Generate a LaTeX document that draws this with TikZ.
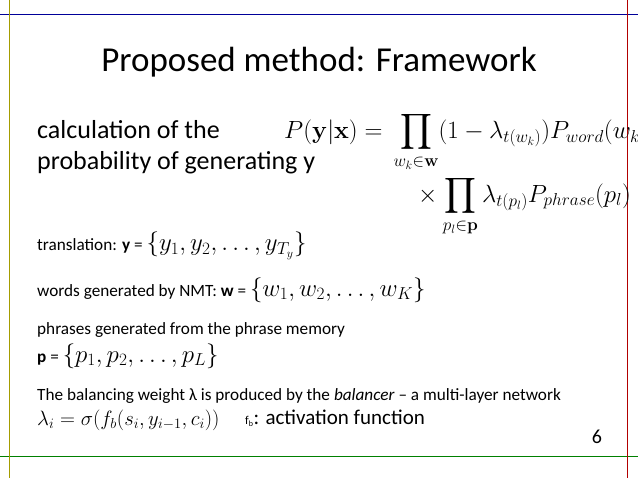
\documentclass[tikz,border=0pt]{standalone}
\usepackage{amsmath}
\usepackage[no-math]{fontspec}
\setmainfont{Carlito}
\begin{document}
\begin{tikzpicture}[x=1pt,y=-1pt,
  txt/.style={anchor=west,inner sep=0pt},
  big/.style={font=\fontsize{26}{31}\selectfont},
  small/.style={font=\fontsize{17.2}{20}\selectfont}]
\useasboundingbox (0,0) rectangle (638,478);
\draw[blue!60!black,line width=1pt] (0,15) -- (638,15);
\draw[green!50!black,line width=1pt] (0,457) -- (638,457);
\draw[olive!80!yellow,line width=1pt] (9,0) -- (9,478);
\draw[red!70!black,line width=1pt] (627,0) -- (627,478);
\node[font=\fontsize{35}{40}\selectfont] (title) at (319,62) {Proposed method: Framework};
\node[txt,big,align=left] (calc) at (37,147) {calculation of the\\probability of generating y};
\node[anchor=north west,inner sep=0pt,font=\fontsize{23}{27}\selectfont] (eq) at (284,112)
 {$\begin{aligned}P(\mathbf{y}|\mathbf{x}) = {}&\prod_{w_k\in\mathbf{w}}(1-\lambda_{t(w_k)})P_{word}(w_k)\\
 &\quad\times\prod_{p_l\in\mathbf{p}}\lambda_{t(p_l)}P_{phrase}(p_l)\end{aligned}$};
\node[txt,small] (tr) at (37,246) {translation: \textbf{y} = \fontsize{25}{30}\selectfont$\{y_1,y_2,\ldots,y_{T_y}\}$};
\node[txt,small] (wd) at (37,290) {words generated by NMT: \textbf{w} = \fontsize{25}{30}\selectfont$\{w_1,w_2,\ldots,w_K\}$};
\node[txt,small] (ph) at (37,330) {phrases generated from the phrase memory};
\node[txt,small] (pp) at (37,356) {\textbf{p} = \fontsize{25}{30}\selectfont$\{p_1,p_2,\ldots,p_L\}$};
\node[txt,small] (bal) at (37,396) {The balancing weight λ is produced by the \textit{balancer} – a multi-layer network};
\node[txt,font=\fontsize{20.5}{24}\selectfont] (lam) at (37,420) {$\lambda_i=\sigma(f_b(s_i,y_{i-1},c_i))$};
\node[txt,font=\fontsize{21}{25}\selectfont] (act) at (245,418) {{\fontsize{12}{14}\selectfont f\textsubscript{b}}: activation function};
\node[font=\fontsize{20}{24}\selectfont] (num) at (597,437) {6};
\end{tikzpicture}
\end{document}
